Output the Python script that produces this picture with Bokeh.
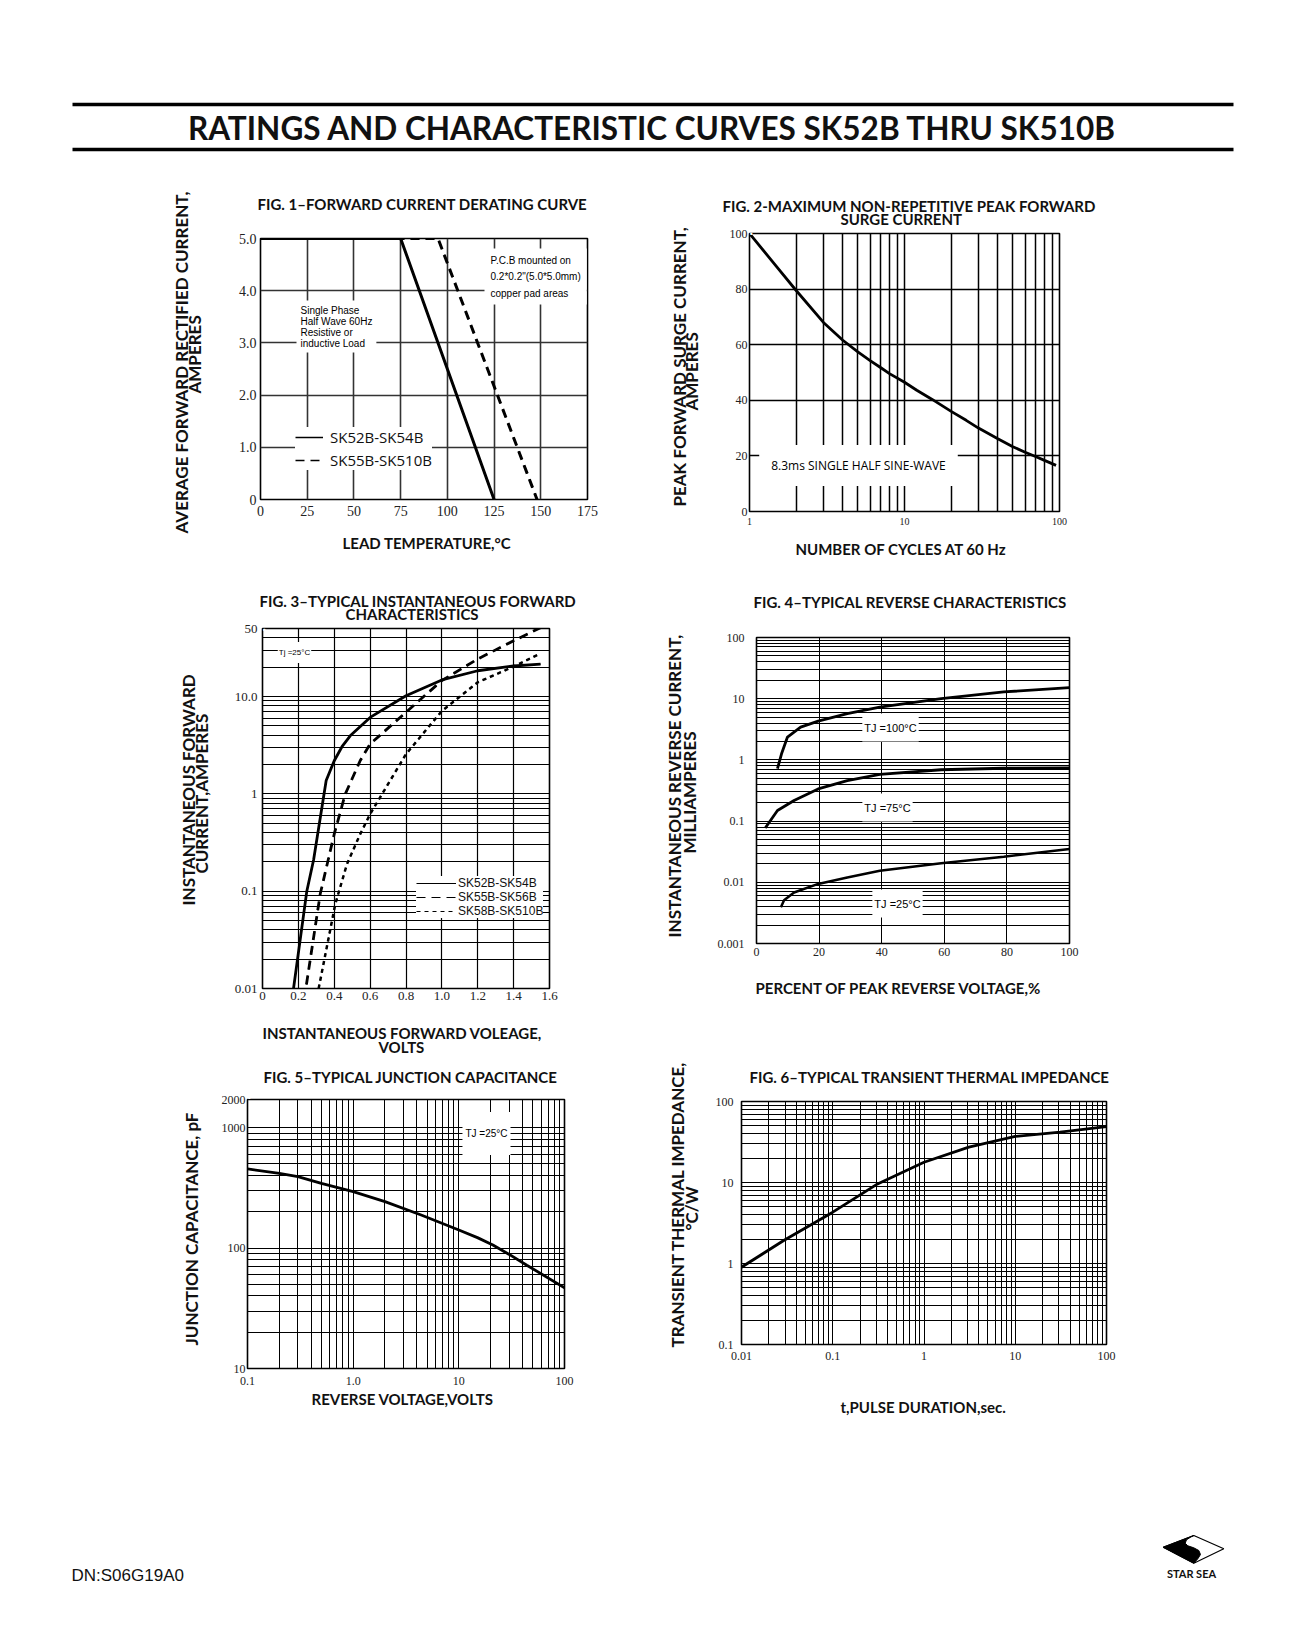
import math
from bokeh.plotting import figure
from bokeh.models import Range1d, FixedTicker, Label, Legend, LegendItem, Title
from bokeh.layouts import column, row
from bokeh.embed import file_html
from bokeh.resources import INLINE

# ---------------- data ----------------
# FIG.1 forward current derating curve
f1_temp_std = [0, 75, 125]
f1_amp_std = [5.0, 5.0, 0.0]
f1_temp_hv = [0, 95, 148]
f1_amp_hv = [5.0, 5.0, 0.0]
f1_x_ticks = [0, 25, 50, 75, 100, 125, 150, 175]
f1_x_labels = ["0", "25", "50", "75", "100", "125", "150", "175"]
f1_y_ticks = [0, 1, 2, 3, 4, 5]
f1_y_labels = ["0", "1.0", "2.0", "3.0", "4.0", "5.0"]
f1_series = ["SK52B-SK54B", "SK55B-SK510B"]

# FIG.2 max non-repetitive peak forward surge current
f2_cycles = [1, 1.5, 2, 3, 4, 5, 6, 7, 8, 10, 12, 15, 20, 25, 30, 40, 50, 60, 70, 80, 95]
f2_surge = [100, 88, 79.5, 68, 61.6, 57.4, 54.3, 51.8, 49.6, 46.5, 43.6, 40.4, 36, 32.8,
            30, 26.2, 23.3, 21.3, 19.8, 18.4, 16.6]
f2_x_ticks = [1, 10, 100]
f2_x_labels = ["1", "10", "100"]
f2_y_ticks = [0, 20, 40, 60, 80, 100]
f2_y_labels = ["0", "20", "40", "60", "80", "100"]

# FIG.3 typical instantaneous forward characteristics
f3_v_a = [0.173, 0.247, 0.285, 0.355, 0.40, 0.443, 0.489, 0.60, 0.80, 1.00, 1.20, 1.40, 1.55]
f3_i_a = [0.01, 0.10, 0.21, 1.37, 2.19, 3.05, 3.95, 6.1, 10.2, 14.8, 18.4, 20.6, 21.5]
f3_v_b = [0.245, 0.322, 0.40, 0.461, 0.545, 0.60, 0.80, 1.00, 1.20, 1.40, 1.55]
f3_i_b = [0.011, 0.094, 0.387, 0.99, 2.2, 3.25, 6.9, 14.6, 24.3, 37.4, 51]
f3_v_c = [0.313, 0.406, 0.471, 0.545, 0.60, 0.80, 1.00, 1.20, 1.40, 1.55]
f3_i_c = [0.01, 0.074, 0.19, 0.387, 0.62, 2.56, 7.1, 14.0, 20.3, 27.7]
f3_series = ["SK52B-SK54B", "SK55B-SK56B", "SK58B-SK510B"]
f3_x_ticks = [0, 0.2, 0.4, 0.6, 0.8, 1.0, 1.2, 1.4, 1.6]
f3_x_labels = ["0", "0.2", "0.4", "0.6", "0.8", "1.0", "1.2", "1.4", "1.6"]
f3_y_ticks = [0.01, 0.1, 1, 10, 50]
f3_y_labels = ["0.01", "0.1", "1", "10.0", "50"]

# FIG.4 typical reverse characteristics
f4_pct_100 = [6.7, 8, 9.9, 14.1, 19.7, 29, 39.4, 59, 79, 100]
f4_ma_100 = [0.72, 1.26, 2.36, 3.44, 4.3, 5.7, 7.3, 10, 12.9, 15.2]
f4_pct_75 = [2.8, 6.7, 12, 19.7, 29, 39.4, 59, 79, 100]
f4_ma_75 = [0.077, 0.149, 0.217, 0.336, 0.46, 0.58, 0.69, 0.73, 0.74]
f4_pct_25 = [7.8, 8.8, 12, 19.7, 29, 39.4, 59, 79, 100]
f4_ma_25 = [0.0039, 0.0051, 0.0068, 0.0094, 0.012, 0.0154, 0.0204, 0.0262, 0.035]
f4_x_ticks = [0, 20, 40, 60, 80, 100]
f4_x_labels = ["0", "20", "40", "60", "80", "100"]
f4_y_ticks = [0.001, 0.01, 0.1, 1, 10, 100]
f4_y_labels = ["0.001", "0.01", "0.1", "1", "10", "100"]

# FIG.5 typical junction capacitance
f5_volts = [0.1, 0.2, 0.3, 0.5, 1.0, 2.0, 4.4, 10, 15, 21, 30, 44, 100]
f5_pf = [454, 417, 392, 344, 294, 243, 188, 141, 122, 106, 88.5, 72, 46.8]
f5_x_ticks = [0.1, 1, 10, 100]
f5_x_labels = ["0.1", "1.0", "10", "100"]
f5_y_ticks = [10, 100, 1000, 1710]
f5_y_labels = ["10", "100", "1000", "2000"]

# FIG.6 typical transient thermal impedance
f6_t = [0.01, 0.029, 0.1, 0.31, 1.0, 3.1, 10, 31, 100]
f6_z = [0.90, 1.92, 4.3, 9.6, 17.8, 27.3, 37, 41.8, 49]
f6_x_ticks = [0.01, 0.1, 1, 10, 100]
f6_x_labels = ["0.01", "0.1", "1", "10", "100"]
f6_y_ticks = [0.1, 1, 10, 100]
f6_y_labels = ["0.1", "1", "10", "100"]


# ---------------- helpers ----------------
def log_lines(lo, hi):
    return [m * 10.0 ** e for e in range(lo, hi) for m in range(1, 10)]


def build(origin, size, frame, xr, yr, xtype="linear", ytype="linear"):
    ox, oy = origin
    W, H = size
    l, t, r, b = frame
    p = figure(width=W, height=H, x_axis_type=xtype, y_axis_type=ytype,
               x_range=Range1d(*xr), y_range=Range1d(*yr), title=None,
               output_backend="svg", toolbar_location=None,
               min_border_left=l - ox, min_border_right=W - (r - ox),
               min_border_top=t - oy, min_border_bottom=H - (b - oy))
    p.outline_line_color = "black"
    p.outline_line_width = 1.6
    p.border_fill_color = "white"
    p.background_fill_color = "white"
    for ax in (p.xaxis[0], p.yaxis[0]):
        ax.axis_line_color = None
        ax.major_tick_in = 0
        ax.major_tick_out = 0
        ax.minor_tick_in = 0
        ax.minor_tick_out = 0
        ax.major_label_text_font = "Liberation Serif"
        ax.major_label_text_color = "#222222"
    return p


def set_axis(ax, ticks, labels, size, standoff):
    ax.ticker = FixedTicker(ticks=ticks)
    ax.major_label_overrides = {t: s for t, s in zip(ticks, labels)}
    ax.major_label_text_font_size = f"{size}px"
    ax.major_label_standoff = standoff


def set_grid(p, xs, ys, color="black", width=1.0):
    p.xgrid.ticker = FixedTicker(ticks=xs)
    p.ygrid.ticker = FixedTicker(ticks=ys)
    p.xgrid.grid_line_color = color
    p.ygrid.grid_line_color = color
    p.xgrid.grid_line_width = width
    p.ygrid.grid_line_width = width
    p.xgrid.grid_line_alpha = 1.0
    p.ygrid.grid_line_alpha = 1.0


def side_titles(p, side, lines, size, spacer, standoff, offsets):
    """lines are given from the one nearest the plot outward"""
    va = "top" if side == "below" else "bottom"
    # blank spacer panel (white on white) pushes the text lines away from the axis
    p.add_layout(Title(text=".", align="left", vertical_align=va, standoff=spacer,
                       text_font="Lato", text_font_size=f"{size}px",
                       text_font_style="bold", text_color="white"), side)
    for text, off in zip(lines, offsets):
        p.add_layout(Title(text=text, align="left", vertical_align=va, standoff=standoff,
                           offset=off, text_font="Lato", text_font_size=f"{size}px",
                           text_font_style="bold", text_color="#111111"), side)


def txt(p, frame, X, Y, text, size, font="Liberation Sans", style="normal", align="center",
        bg=None, pad=0, lh=1.2):
    l, t, r, b = frame
    lab = Label(x=X - l, y=b - Y, x_units="screen", y_units="screen", text=text,
                text_font=font, text_font_size=f"{size}px", text_font_style=style,
                text_align=align, text_baseline="middle", text_color="black",
                text_line_height=lh)
    if bg is not None:
        lab.background_fill_color = bg
        lab.background_fill_alpha = 1.0
        lab.padding = pad
    p.add_layout(lab)


# ---------------- header ----------------
hdr = figure(width=1294, height=166, x_range=Range1d(0, 1294), y_range=Range1d(166, 0),
             output_backend="svg", toolbar_location=None, title=None,
             x_axis_location=None, y_axis_location=None,
             min_border_left=0, min_border_right=0, min_border_top=0, min_border_bottom=0)
hdr.grid.visible = False
hdr.outline_line_color = None
hdr.segment(x0=[72, 72], y0=[104, 149], x1=[1233, 1233], y1=[104, 149],
            line_color="black", line_width=3.5)
hdr.add_layout(Label(x=652, y=127, text="RATINGS AND CHARACTERISTIC CURVES SK52B THRU SK510B",
                     text_font="Lato", text_font_style="bold", text_font_size="31.5px",
                     text_align="center", text_baseline="middle", text_color="#111111"))

# ---------------- FIG 1 ----------------
fr1 = (260, 238, 587, 499)
p1 = build((0, 166), (648, 399), fr1, (0, 175), (0, 5))
set_axis(p1.xaxis[0], f1_x_ticks, f1_x_labels, 14, 6)
set_axis(p1.yaxis[0], f1_y_ticks, f1_y_labels, 14, 4)
set_grid(p1, f1_x_ticks[1:-1], f1_y_ticks[1:-1], "#333333", 1.6)
lg1a = p1.line(f1_temp_std, f1_amp_std, line_color="black", line_width=1.5)
lg1b = p1.line(f1_temp_hv, f1_amp_hv, line_color="black", line_width=1.5, line_dash="9 6")
p1.line(f1_temp_std, f1_amp_std, line_color="black", line_width=3)
p1.line(f1_temp_hv, f1_amp_hv, line_color="black", line_width=3, line_dash="9 6")
leg1 = Legend(items=[LegendItem(label=f1_series[0], renderers=[lg1a]),
                     LegendItem(label=f1_series[1], renderers=[lg1b])],
              location=(35, 29), background_fill_color="white", background_fill_alpha=1.0,
              border_line_color=None, padding=8, spacing=3, margin=0,
              glyph_width=28, glyph_height=16, label_height=16, label_standoff=7,
              label_text_font="Open Sans", label_text_font_size="15px",
              label_text_color="#111111")
p1.add_layout(leg1)
side_titles(p1, "above", ["FIG. 1\u2013FORWARD CURRENT DERATING CURVE"], 15, 13.2, 0, [-3])
side_titles(p1, "below", ["LEAD TEMPERATURE,\u00b0C"], 15, 2.0, 0, [82])
side_titles(p1, "left", ["AMPERES", "AVERAGE FORWARD RECTIFIED CURRENT,"], 17, 21.5, -10.5, [106, -34])
txt(p1, fr1, 296, 326, "Single Phase\nHalf Wave 60Hz\nResistive or\ninductive Load", 10,
    align="left", bg="white", pad=4, lh=1.0)
txt(p1, fr1, 484, 276, "P.C.B mounted on\n0.2*0.2\"(5.0*5.0mm)\ncopper pad areas", 10,
    align="left", bg="white", pad=6, lh=1.5)

# ---------------- FIG 2 ----------------
fr2 = (749, 233, 1059, 511)
p2 = build((648, 166), (646, 399), fr2, (1, 100), (0, 100), xtype="log")
set_axis(p2.xaxis[0], f2_x_ticks, f2_x_labels, 10, 6)
set_axis(p2.yaxis[0], f2_y_ticks, f2_y_labels, 12, 2)
set_grid(p2, [x for x in log_lines(0, 2) if x > 1], f2_y_ticks[1:-1], "black", 1.5)
p2.line(f2_cycles, f2_surge, line_color="black", line_width=2.8)
side_titles(p2, "above", ["SURGE CURRENT", "FIG. 2-MAXIMUM NON-REPETITIVE PEAK FORWARD"],
            15, -3.7, -7, [91, -27])
side_titles(p2, "below", ["NUMBER OF CYCLES AT 60 Hz"], 15, -1.4, 0, [46])
side_titles(p2, "left", ["AMPERES", "PEAK  FORWARD SURGE CURRENT,"], 17, 15.5, -11.5, [101, 5])
txt(p2, fr2, 858, 465, "8.3ms SINGLE HALF SINE-WAVE", 12, font="Open Sans",
    bg="white", pad=(12, 12))

# ---------------- FIG 3 ----------------
fr3 = (262, 628, 549, 988)
p3 = build((0, 565), (648, 497), fr3, (0, 1.6), (0.01, 50), ytype="log")
set_axis(p3.xaxis[0], f3_x_ticks, f3_x_labels, 13, 3)
set_axis(p3.yaxis[0], f3_y_ticks, f3_y_labels, 13, 5)
set_grid(p3, f3_x_ticks[1:-1], [y for y in log_lines(-2, 2) if 0.01 < y < 50], "black", 1.2)
lg3a = p3.line(f3_v_a, f3_i_a, line_color="black", line_width=1.2)
lg3b = p3.line(f3_v_b, f3_i_b, line_color="black", line_width=1.2, line_dash="9 6")
lg3c = p3.line(f3_v_c, f3_i_c, line_color="black", line_width=1.2, line_dash="4 4")
p3.line(f3_v_a, f3_i_a, line_color="black", line_width=2.8)
p3.line(f3_v_b, f3_i_b, line_color="black", line_width=2.8, line_dash="9 6")
p3.line(f3_v_c, f3_i_c, line_color="black", line_width=2.5, line_dash="4 4")
leg3 = Legend(items=[LegendItem(label=f3_series[0], renderers=[lg3a]),
                     LegendItem(label=f3_series[1], renderers=[lg3b]),
                     LegendItem(label=f3_series[2], renderers=[lg3c])],
              location=(154, 70), background_fill_color="white", background_fill_alpha=1.0,
              border_line_color=None, padding=4, spacing=0, margin=0,
              glyph_width=40, glyph_height=12, label_height=12, label_standoff=2,
              label_text_font="Liberation Sans", label_text_font_size="12px",
              label_text_color="#111111")
p3.add_layout(leg3)
side_titles(p3, "above", ["CHARACTERISTICS", "FIG. 3\u2013TYPICAL INSTANTANEOUS FORWARD"],
            15, -4.5, -7, [83, -3])
side_titles(p3, "below", ["INSTANTANEOUS FORWARD VOLEAGE,", "VOLTS"], 15, 11.5, -6.2, [0, 116])
side_titles(p3, "left", ["CURRENT,AMPERES", "INSTANTANEOUS FORWARD"], 17, 10.7, -10, [115, 83])
txt(p3, fr3, 294, 652, "Tj =25\u00b0C", 8, bg="white", pad=(1, 6))

# ---------------- FIG 4 ----------------
fr4 = (756, 637, 1069, 943)
p4 = build((648, 565), (646, 497), fr4, (0, 100), (0.001, 100), ytype="log")
set_axis(p4.xaxis[0], f4_x_ticks, f4_x_labels, 12, 4)
set_axis(p4.yaxis[0], f4_y_ticks, f4_y_labels, 12, 12)
set_grid(p4, f4_x_ticks[1:-1], [y for y in log_lines(-3, 2) if y > 0.001], "black", 1.0)
p4.line(f4_pct_100, f4_ma_100, line_color="black", line_width=2.8)
p4.line(f4_pct_75, f4_ma_75, line_color="black", line_width=2.8)
p4.line(f4_pct_25, f4_ma_25, line_color="black", line_width=2.5)
side_titles(p4, "above", ["FIG. 4\u2013TYPICAL REVERSE CHARACTERISTICS"], 15, 13.6, 0, [-3])
side_titles(p4, "below", ["PERCENT OF PEAK REVERSE VOLTAGE,%"], 15, 7.0, 0, [-1])
side_titles(p4, "left", ["MILLIAMPERES", "INSTANTANEOUS REVERSE CURRENT,"], 17, 4.75, -8.1, [90, 6])
txt(p4, fr4, 890, 727, "TJ =100\u00b0C", 11, bg="white", pad=(2, 8))
txt(p4, fr4, 887, 807, "TJ =75\u00b0C", 11, bg="white", pad=(2, 8))
txt(p4, fr4, 897, 903, "TJ =25\u00b0C", 11, bg="white", pad=(2, 8))

# ---------------- FIG 5 ----------------
fr5 = (247, 1099, 564, 1368)
p5 = build((0, 1062), (648, 378), fr5, (0.1, 100), (10, 1710), xtype="log", ytype="log")
set_axis(p5.xaxis[0], f5_x_ticks, f5_x_labels, 12, 8)
set_axis(p5.yaxis[0], f5_y_ticks, f5_y_labels, 12, 2)
set_grid(p5, [x for x in log_lines(-1, 2) if x > 0.1],
         [y for y in log_lines(1, 3) if y > 10] + [1000], "black", 1.0)
p5.line(f5_volts, f5_pf, line_color="black", line_width=2.8)
side_titles(p5, "above", ["FIG. 5\u2013TYPICAL JUNCTION CAPACITANCE"], 15, 0.8, 0, [16])
side_titles(p5, "below", ["REVERSE VOLTAGE,VOLTS"], 15, -11.1, 0, [64])
side_titles(p5, "left", ["JUNCTION CAPACITANCE, pF"], 17, 3.2, 0, [23])
txt(p5, fr5, 486, 1133, "TJ =25\u00b0C", 10, bg="white", pad=(3, 16))

# ---------------- FIG 6 ----------------
fr6 = (741, 1101, 1106, 1344)
p6 = build((648, 1062), (646, 378), fr6, (0.01, 100), (0.1, 100), xtype="log", ytype="log")
set_axis(p6.xaxis[0], f6_x_ticks, f6_x_labels, 12, 7)
set_axis(p6.yaxis[0], f6_y_ticks, f6_y_labels, 12, 8)
set_grid(p6, [x for x in log_lines(-2, 2) if x > 0.01],
         [y for y in log_lines(-1, 2) if y > 0.1], "black", 1.0)
p6.line(f6_t, f6_z, line_color="black", line_width=2.8)
side_titles(p6, "above", ["FIG. 6\u2013TYPICAL TRANSIENT THERMAL IMPEDANCE"], 15, 2.8, 0, [8])
side_titles(p6, "below", ["t,PULSE DURATION,sec."], 15, 22.1, 0, [99])
side_titles(p6, "left", ["\u00b0C/W", "TRANSIENT THERMAL IMPEDANCE,"], 17, 1.4, -9.2, [114, -3])

# ---------------- footer ----------------
ftr = figure(width=1294, height=170, x_range=Range1d(0, 1294), y_range=Range1d(170, 0),
             output_backend="svg", toolbar_location=None, title=None,
             x_axis_location=None, y_axis_location=None,
             min_border_left=0, min_border_right=0, min_border_top=0, min_border_bottom=0)
ftr.grid.visible = False
ftr.outline_line_color = None
ftr.add_layout(Label(x=71, y=135, text="DN:S06G19A0", text_font="Liberation Sans",
                     text_font_size="17px", text_align="left", text_baseline="middle",
                     text_color="#111111"))
ftr.add_layout(Label(x=1191, y=133, text="STAR SEA", text_font="Lato", text_font_style="bold",
                     text_font_size="11px", text_align="center", text_baseline="middle",
                     text_color="#111111"))
# logo (decoration)
lx = [1162.7, 1193.3, 1190, 1186, 1184.7, 1187.3, 1193.3, 1198.3, 1200, 1197.3, 1193.3]
ly = [106.7, 95, 96.7, 99.3, 102.7, 105.3, 107.3, 110, 114, 118.3, 122.7]
ftr.patch(lx, ly, fill_color="black", line_color="black", line_width=1)
ftr.line([1162.7, 1193.3, 1223.3, 1193.3, 1162.7], [106.7, 95, 108.3, 122.7, 106.7],
         line_color="black", line_width=1.2)

col_left = column(row(p1), row(p3), row(p5))
col_right = column(row(p2), row(p4), row(p6))
layout = column(hdr, row(col_left, col_right), ftr)
open("out.html", "w").write(file_html(layout, INLINE))
